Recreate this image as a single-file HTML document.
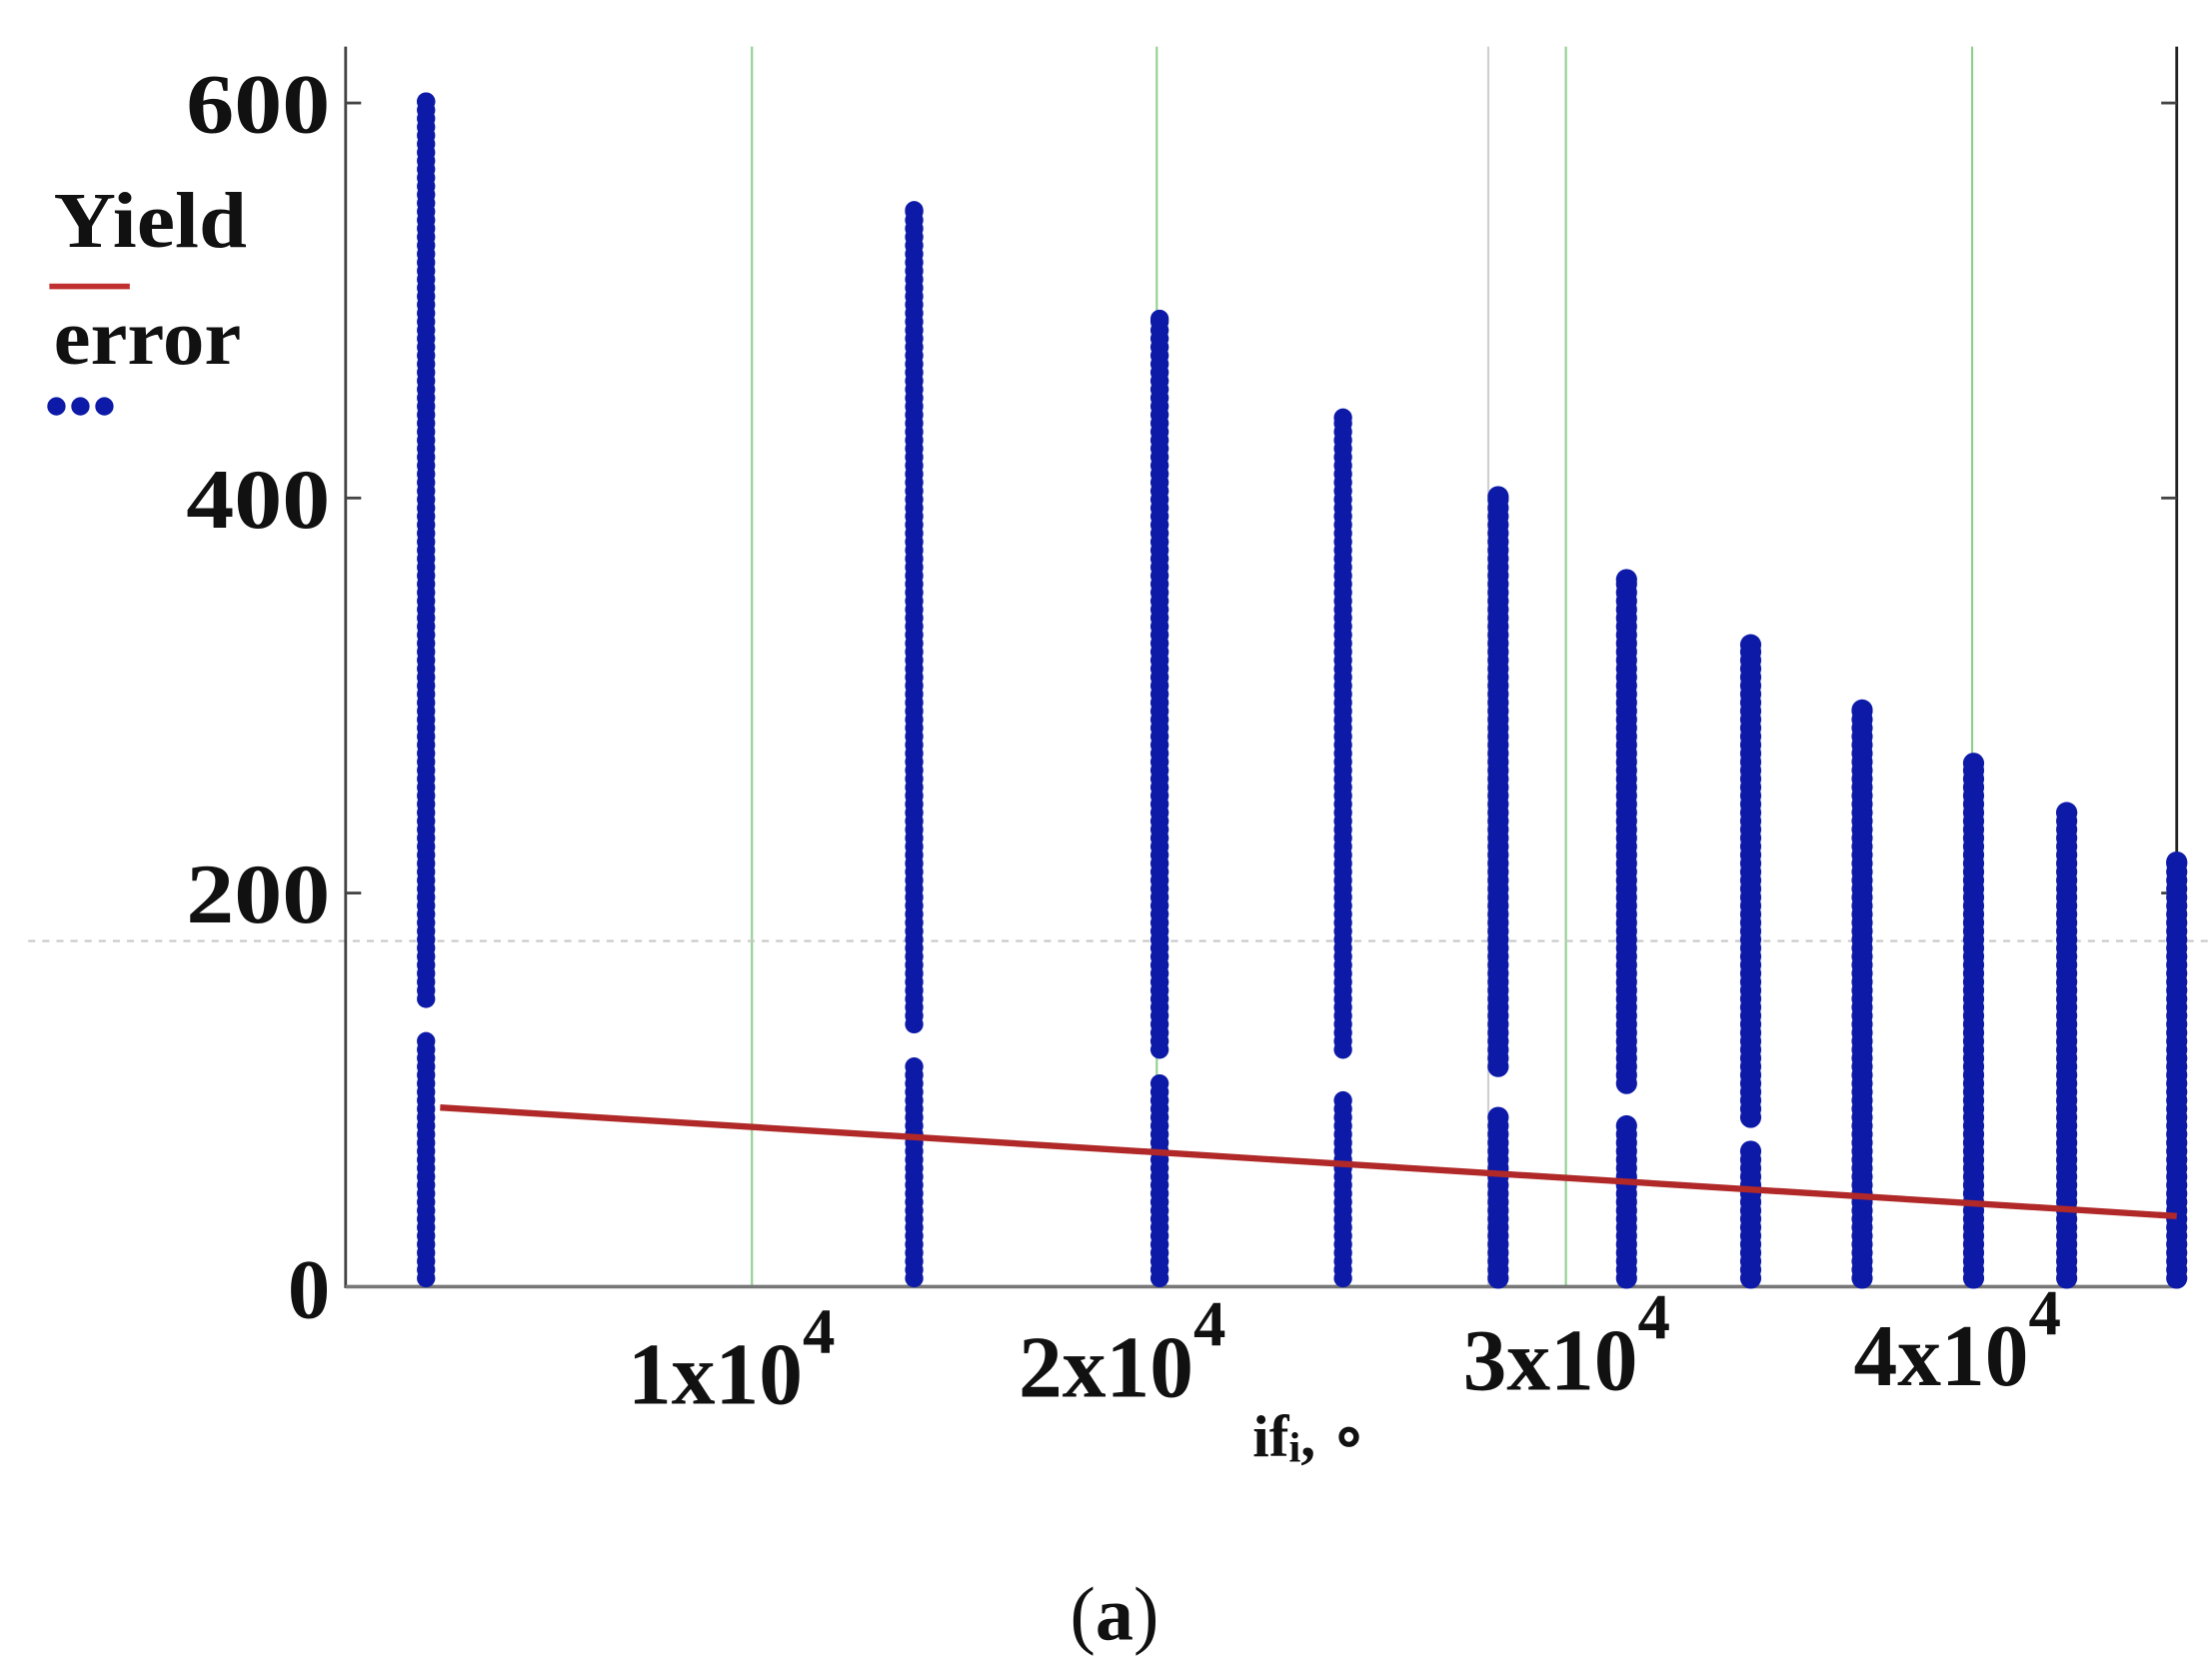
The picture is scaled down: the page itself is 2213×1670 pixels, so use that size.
<!DOCTYPE html>
<html><head><meta charset="utf-8"><style>
html,body{margin:0;padding:0;background:#fff}
svg{display:block}
text{font-family:"Liberation Serif",serif;font-weight:bold;fill:#111}
</style></head><body>
<svg id="s" width="2213" height="1670" viewBox="0 0 1568 1183" preserveAspectRatio="none" xmlns="http://www.w3.org/2000/svg">
<rect width="1568" height="1183" fill="#fff"/>
<g stroke="#8fd08f" stroke-width="1.5">
<line x1="533" y1="33" x2="533" y2="912"/>
<line x1="820" y1="33" x2="820" y2="912"/>
<line x1="1110" y1="33" x2="1110" y2="912"/>
<line x1="1398" y1="33" x2="1398" y2="912"/>
</g>
<line x1="1055" y1="33" x2="1055" y2="912" stroke="#cfcfcf" stroke-width="1.5"/>
<line x1="20" y1="667" x2="1568" y2="667" stroke="#c8c8c8" stroke-width="1.5" stroke-dasharray="5,5"/>
<line x1="245" y1="33" x2="245" y2="913" stroke="#444" stroke-width="2"/>
<line x1="245" y1="912" x2="1545" y2="912" stroke="#777" stroke-width="2.5"/>
<line x1="1543" y1="33" x2="1543" y2="913" stroke="#222" stroke-width="2"/>
<g stroke="#444" stroke-width="2">
<line x1="245" y1="73" x2="256" y2="73"/><line x1="245" y1="353" x2="256" y2="353"/><line x1="245" y1="633" x2="256" y2="633"/>
<line x1="1532" y1="73" x2="1543" y2="73"/><line x1="1532" y1="353" x2="1543" y2="353"/><line x1="1532" y1="633" x2="1543" y2="633"/>
</g>
<g id="dots" fill="#0d1aa8"></g>
<line x1="312" y1="785" x2="1543" y2="862" stroke="#b02828" stroke-width="4.5"/>
<g font-size="60" text-anchor="end">
<text x="234" y="94" textLength="102" lengthAdjust="spacingAndGlyphs">600</text>
<text x="234" y="374" textLength="102" lengthAdjust="spacingAndGlyphs">400</text>
<text x="234" y="654" textLength="102" lengthAdjust="spacingAndGlyphs">200</text>
<text x="234" y="934">0</text>
</g>
<text x="38" y="175" font-size="56" textLength="137" lengthAdjust="spacingAndGlyphs">Yield</text>
<line x1="35" y1="203" x2="92" y2="203" stroke="#c03030" stroke-width="4"/>
<text x="38" y="258" font-size="56" textLength="133" lengthAdjust="spacingAndGlyphs">error</text>
<g fill="#0d1aa8"><circle cx="40" cy="288" r="6.5"/><circle cx="57" cy="288" r="6.5"/><circle cx="74" cy="288" r="6.5"/></g>
<g font-size="62">
<text x="445" y="995">1x10<tspan font-size="46" dy="-36">4</tspan></text>
<text x="722" y="990">2x10<tspan font-size="46" dy="-36">4</tspan></text>
<text x="1037" y="985">3x10<tspan font-size="46" dy="-36">4</tspan></text>
<text x="1314" y="982">4x10<tspan font-size="46" dy="-36">4</tspan></text>
</g>
<text x="888" y="1032" font-size="42">if<tspan font-size="30" dy="4">i</tspan><tspan dy="-4">, ∘</tspan></text>
<text x="790" y="1162" font-size="54" text-anchor="middle" style="font-weight:normal">(<tspan style="font-weight:bold">a</tspan>)</text>
</svg>
<script>
var cols=[[302,600,[145,125]],[648,545,[130,115]],[822,490,[120,103]],[952,440,[118,97]],[1062,400,[110,88]],[1153,358,[100,82]],[1241,325,[85,70]],[1320,292,null],[1399,265,null],[1465,240,null],[1543,215,null]];
var g=document.getElementById('dots'),h='';
cols.forEach(function(c,i){
 var r=i<4?6.5:7.5;
 var top=912-c[1]*1.4;
 for(var y=906;y>=top;y-=6){
  var v=(912-y)/1.4;
  if(c[2]&&v<c[2][0]&&v>c[2][1])continue;
  h+='<circle cx="'+c[0]+'" cy="'+y.toFixed(1)+'" r="'+r+'"/>';
 }
 h+='<circle cx="'+c[0]+'" cy="'+top.toFixed(1)+'" r="'+r+'"/>';
});
g.innerHTML=h;
</script>
</body></html>
